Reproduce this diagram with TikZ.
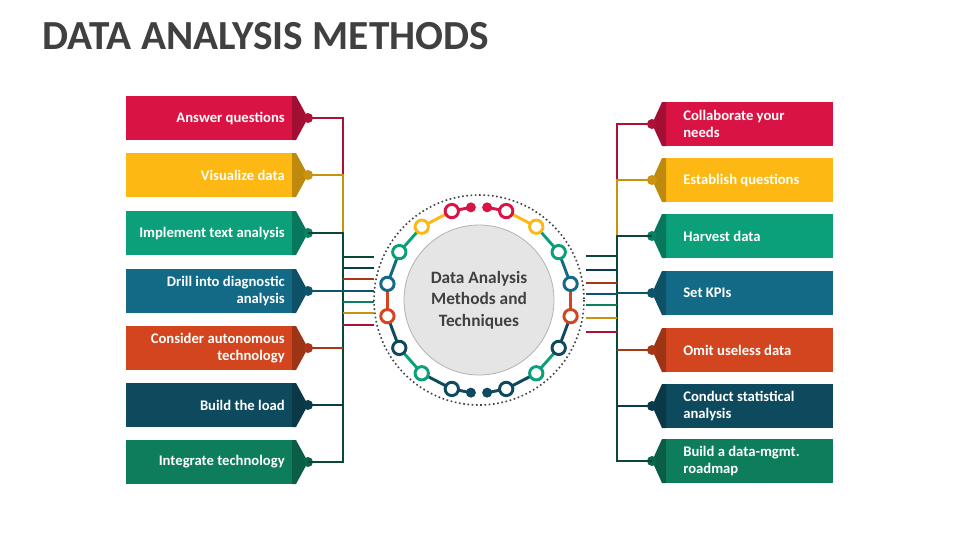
\documentclass[tikz,border=0pt]{standalone}
\usepackage{fontspec}
\setmainfont{Carlito}
\usetikzlibrary{calc}
\definecolor{cR}{HTML}{D91444}
\definecolor{cY}{HTML}{FDB813}
\definecolor{cG}{HTML}{0BA07A}
\definecolor{cB}{HTML}{126A87}
\definecolor{cO}{HTML}{D2451E}
\definecolor{cN}{HTML}{0D4A5E}
\definecolor{cT}{HTML}{0E7D5C}
\definecolor{cDG}{HTML}{0B5A45}
\definecolor{ttl}{HTML}{404040}
\begin{document}
\begin{tikzpicture}[x=0.75pt,y=-0.75pt,
  lbl/.style={text=white,font=\bfseries\fontsize{11}{13}\selectfont,inner sep=0pt},
  ring/.style={line width=2.2pt},
  rc/.style={circle,draw=#1,line width=2.2pt,fill=white,minimum size=10pt,inner sep=0pt},
  conn/.style={line width=1.5pt,draw=#1!80!black}]
\useasboundingbox (0,0) rectangle (960,540);
\node[anchor=west,text=ttl,font=\bfseries\fontsize{31}{36}\selectfont] (title) at (38,36) {DATA ANALYSIS METHODS};
% center
\coordinate (c) at (479,300);
\draw[dotted,line width=1.2pt,draw=ttl] (c) circle (105);
\node[circle,minimum size=112.5pt,fill=black!10,draw=black!30,line width=0.6pt,align=center,text=ttl,font=\bfseries\fontsize{13}{16}\selectfont] (ctr) at (c) {Data Analysis\\Methods and\\Techniques};
% ring
\foreach \a/\b/\col in {95/107/cR,107/128/cY,128/149/cG,149/170/cB,170/190/cO,190/211/cN,211/232/cG,232/253/cN,253/265/cN}{
  \draw[ring,draw=\col] ($(c)+(\a:93 and -93)$) -- ($(c)+(\b:93 and -93)$);
  \draw[ring,draw=\col] ($(c)+(180-\a:93 and -93)$) -- ($(c)+(180-\b:93 and -93)$);
}
\foreach \a/\col in {95/cR,265/cN}{
  \fill[\col] ($(c)+(\a:93 and -93)$) circle (5);
  \fill[\col] ($(c)+(180-\a:93 and -93)$) circle (5);
}
\foreach \a/\col in {107/cR,128/cY,149/cG,170/cB,190/cO,211/cN,232/cG,253/cN}{
  \node[rc=\col] at ($(c)+(\a:93 and -93)$) {};
  \node[rc=\col] at ($(c)+(180-\a:93 and -93)$) {};
}
% left boxes
\foreach \i/\y/\col/\t in {1/118/cR/Answer questions,2/175/cY/Visualize data,3/233/cG/Implement text analysis,4/291/cB/Drill into diagnostic\\analysis,5/348/cO/Consider autonomous\\technology,6/405/cN/Build the load,7/462/cT/Integrate technology}{
  \fill[\col] (126,\y-22) rectangle (294,\y+22);
  \fill[\col!75!black] (292,\y-22) -- (296,\y-22) -- (308,\y) -- (296,\y+22) -- (292,\y+22) -- cycle;
  \node[lbl,anchor=east,align=right] (L\i) at (285,\y) {\t};
  \fill[\col!80!black] (308,\y) circle (5);
  \coordinate (LD\i) at (308,\y);
}
% right boxes
\foreach \i/\y/\col/\t in {1/124/cR/Collaborate your\\needs,2/180/cY/Establish questions,3/236/cG/Harvest data,4/293/cB/Set KPIs,5/350/cO/Omit useless data,6/406/cN/Conduct statistical\\analysis,7/461/cT/Build a data-mgmt.\\roadmap}{
  \fill[\col] (664,\y-22) rectangle (833,\y+22);
  \fill[\col!75!black] (666,\y-22) -- (662,\y-22) -- (652,\y) -- (662,\y+22) -- (666,\y+22) -- cycle;
  \node[lbl,anchor=west,align=left] (R\i) at (683,\y) {\t};
  \fill[\col!80!black] (652,\y) circle (5);
  \coordinate (RD\i) at (652,\y);
}
% left connectors
\draw[conn=cR] (LD1) -- (343,118) -- (343,175);
\draw[conn=cY] (LD2) -- (343,175) -- (343,233);
\draw[conn=cDG] (LD3) -- (343,233) -- (343,462) -- (LD7);
\foreach \i/\y/\col in {4/291/cB,5/348/cO,6/405/cN}{\draw[conn=\col] (LD\i) -- (343,\y);}
\foreach \y/\col in {257/cDG,268/cN,279/cO,291/cB,302/cG,313/cY,325/cR}{\draw[conn=\col] (343,\y) -- (374,\y);}
% right connectors
\draw[conn=cR] (RD1) -- (617,124) -- (617,180);
\draw[conn=cY] (RD2) -- (617,180) -- (617,236);
\draw[conn=cDG] (RD3) -- (617,236) -- (617,461) -- (RD7);
\foreach \i/\y/\col in {4/293/cB,5/350/cO,6/406/cN}{\draw[conn=\col] (RD\i) -- (617,\y);}
\foreach \y/\col in {256/cDG,270/cN,283/cO,294/cB,305/cG,318/cY,332/cR}{\draw[conn=\col] (586,\y) -- (617,\y);}
\end{tikzpicture}
\end{document}
